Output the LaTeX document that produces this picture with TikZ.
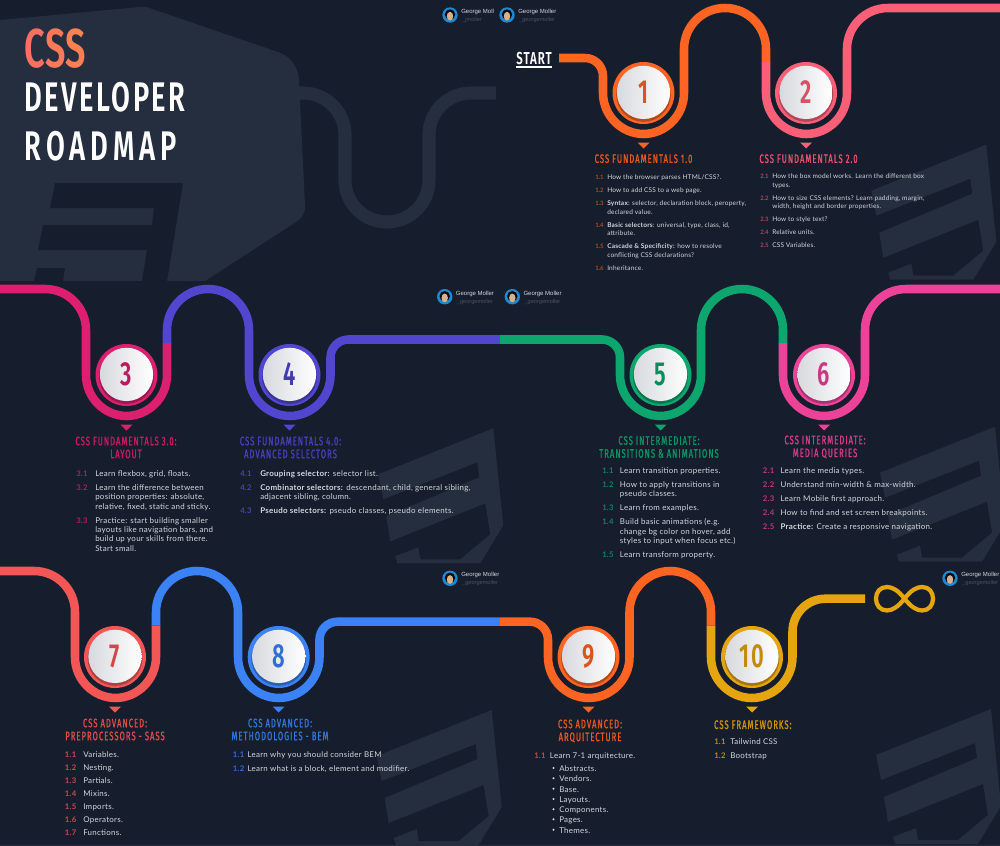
\documentclass[tikz,border=0pt]{standalone}
\usepackage{fontspec}
\setmainfont{Lato}
\newfontfamily\dinfont[FakeStretch=0.62,FakeBold=1.1,LetterSpace=8.6]{Fira Sans}
\newfontfamily\titlefont[FakeStretch=0.66,LetterSpace=6]{Fira Sans SemiBold}
\newfontfamily\avatarfont{Liberation Sans}
\definecolor{bgdark}{HTML}{161D2D}
\definecolor{shieldgray}{HTML}{252E3E}
\definecolor{itemgray}{HTML}{D3D7DE}
\definecolor{handlegray}{HTML}{4B5363}
\definecolor{discgray}{HTML}{D8D9DE}
\definecolor{avatarblue}{HTML}{1E88D0}
\definecolor{roadorange}{HTML}{FF6422}
\definecolor{roadpink}{HTML}{FB5F78}
\definecolor{roadcrimson}{HTML}{DC1F6E}
\definecolor{roadviolet}{HTML}{5146D0}
\definecolor{roadgreen}{HTML}{0DA66F}
\definecolor{roadmagenta}{HTML}{EC4399}
\definecolor{roadcoral}{HTML}{F45656}
\definecolor{roadblue}{HTML}{3B82F6}
\definecolor{roadamber}{HTML}{E5A50F}
\tikzset{
  road/.style={line width=6.4pt, rounded corners=30.75pt},
  smallbend/.style={rounded corners=13.5pt},
  bigbend/.style={rounded corners=30.75pt},
  ringdisc/.style={circle, minimum size=46.5pt, inner sep=0pt},
  numdisc/.style={circle, minimum size=40pt, inner sep=0pt, left color=discgray, right color=white,
    font=\titlefont\fontsize{25}{25}\selectfont},
  headline/.style={align=center, inner sep=0pt, font=\dinfont\fontsize{9.2}{9.7}\selectfont},
  numlabel/.style={anchor=mid west, inner sep=0pt},
  itemtext/.style={anchor=mid west, inner sep=0pt, text=itemgray},
  bigtitle/.style={anchor=west, inner sep=0pt, text=white},
  avatarname/.style={anchor=mid west, inner sep=0pt, text=itemgray, font=\avatarfont\fontsize{4.5}{5}\selectfont},
  avatarhandle/.style={anchor=mid west, inner sep=0pt, text=handlegray, font=\avatarfont\fontsize{4.2}{5}\selectfont}
}
% css logo that sits behind the text
\newcommand{\csslogo}[2]{
  \fill[shieldgray, shift={(#1,#2)}] (38,55) -- (153,9) -- (163,106) -- (140,144) -- (57,144) -- (55,137)
    -- (78,128) -- (80,140) -- (120,140) -- (150,115) -- (145,84) -- (50,122) -- (46,97)
    -- (139,58) -- (137,43) -- (43,80) -- cycle;
}
% small portrait
\newcommand{\authormark}[2]{
  \fill[#1, shift={(#2)}] (0,0) circle[radius=7.7];
  \fill[shift={(#2)}, fill=black!70!bgdark] (0,-.5) circle[radius=5.2];
  \fill[shift={(#2)}, fill=brown!60!white] (0,1.2) ellipse[x radius=3.2, y radius=4.4];
}
\begin{document}
\begin{tikzpicture}[x=.75pt,y=-.75pt]
\useasboundingbox (0,0) rectangle (1000,846);
\clip (0,0) rectangle (1000,846);
\fill[bgdark] (0,0) rectangle (1000,846);
\fill[shieldgray] (0,844.6) rectangle (1000,846);

% big shield and its faint road
\fill[shieldgray] (0,20) -- (140,7) .. controls (146,6.5) and (150,8) .. (155,10) -- (278,52)
  .. controls (290,56) and (298,66) .. (299,80) -- (305,205) .. controls (306,212) and (302,218) .. (296,222)
  -- (205,281) -- (0,281) -- cycle;
\fill[bgdark] (183,183) -- (55,183) -- (50,208) -- (154,208) -- (152,225) -- (43,225) -- (38,250)
  -- (147,250) -- (142,281) -- (63,281) -- (65,268) -- (37,268) -- (34,281) -- (167,281) -- cycle;
\draw[shieldgray, line width=9.8pt, rounded corners=31.5pt] (298,93) -- (345,93) -- (345,222) -- (429,222) -- (429,93) -- (496,93);

\csslogo{833.3}{135.7}
\csslogo{842}{417.7}
\csslogo{340.3}{419.3}
\csslogo{838}{700}
\csslogo{338.7}{701}

% authors
\foreach \k/\x/\y/\nm/\hdl in {
  a/450/15/{George Moll}/{\_jmoller},
  b/507/15/{George Moller}/{\_georgemoller},
  c/444.7/296.7/{George Moller}/{\_georgemoller},
  d/512.3/296.7/{George Moller}/{\_georgemoller},
  e/450/578.3/{George Moller}/{\_georgemoller},
  f/950/578.3/{George Moller}/{\_georgemoller}}{
  \authormark{avatarblue}{\x,\y}
  \node[avatarname] (name\k) at (\x+11,\y-5) {\nm};
  \node[avatarhandle] (handle\k) at (\x+12,\y+3.3) {\hdl};
}

% first row
\draw[road, roadorange, smallbend] (559,58) -- (603,58) [bigbend] -- (603,134) -- (684,134) -- (684,8) -- (766,8) -- (766,62);
\draw[road, roadpink] (766,62) -- (766,134) -- (847,134) -- (847,8) -- (1000,8);

% second row
\draw[road, roadcrimson] (0,289) -- (86,289) -- (86,416) -- (167,416) -- (167,343);
\draw[road, roadviolet] (167,343) -- (167,289) -- (249,289) -- (249,416) -- (330.5,416) [smallbend] -- (330.5,339.5) -- (500,339.5);
\draw[road, roadgreen, smallbend] (500,339.5) -- (620,339.5) [bigbend] -- (620,416) -- (701,416) -- (701,289) -- (783,289) -- (783,343);
\draw[road, roadmagenta] (783,343) -- (783,416) -- (865,416) -- (865,289) -- (1000,289);

% third row
\draw[road, roadcoral] (0,571) -- (75,571) -- (75,698) -- (156,698) -- (156,625.7);
\draw[road, roadblue] (156,625.7) -- (156,571) -- (238,571) -- (238,698) -- (319.5,698) [smallbend] -- (319.5,621.7) -- (500,621.7);
\draw[road, roadorange, smallbend] (500,621.7) -- (548,621.7) [bigbend] -- (548,698) -- (629.5,698) -- (629.5,571) -- (711,571) -- (711,625.7);
\draw[road, roadamber] (711,625.7) -- (711,698) -- (792.5,698) [rounded corners=24.75pt] -- (792.5,598.7) -- (865,598.7);

% infinity
\draw[roadamber, line width=3.2pt] (904.5,598.7) .. controls (911,590) and (917,587) .. (922,587)
  .. controls (929,587) and (933,592) .. (933,598.7) .. controls (933,605) and (929,610.5) .. (922,610.5)
  .. controls (917,610.5) and (911,607) .. (904.5,598.7) .. controls (898,590) and (892,587) .. (887,587)
  .. controls (880,587) and (876,592) .. (876,598.7) .. controls (876,605) and (880,610.5) .. (887,610.5)
  .. controls (892,610.5) and (898,607) .. (904.5,598.7) -- cycle;

% numbered discs
\foreach \n/\x/\y/\c in {
  1/643.5/93/roadorange, 2/806/93/roadpink,
  3/126.5/375/roadcrimson, 4/289.5/375/roadviolet, 5/660.5/375/roadgreen, 6/824/375/roadmagenta,
  7/115/657/roadcoral, 8/278.7/657/roadblue, 9/588.5/657/roadorange, 10/752/657/roadamber}{
  \node[ringdisc, fill=\c] (ring\n) at (\x,\y) {};
  \fill[\c!72!black] (\x,\y+1.4) circle[radius=27.4];
  \node[numdisc, text=\c!85!black] (step\n) at (\x,\y-.6) {\n};
  \fill[\c] (\x-6,\y+49.5) -- (\x+6,\y+49.5) -- (\x,\y+55.5) -- cycle;
}

% page title
\node[bigtitle, font=\titlefont\addfontfeature{LetterSpace=13}\fontsize{41}{41}\selectfont] (titlecss) at (24.5,49)
  {\textcolor[HTML]{FB6F62}{C}\textcolor[HTML]{FD7958}{S}\textcolor[HTML]{FE8052}{S}};
\node[bigtitle, font=\titlefont\fontsize{31}{31}\selectfont] (titledev) at (24.5,97) {DEVELOPER};
\node[bigtitle, font=\titlefont\addfontfeature{LetterSpace=12}\fontsize{31}{31}\selectfont] (titleroad) at (24.5,146) {ROADMAP};
\node[bigtitle, font=\titlefont\fontsize{13}{13}\selectfont] (start) at (516,59) {START};
\draw[white, line width=.9pt] (start.west |- 0,67) -- (start.east |- 0,67);

% headlines
\node[headline, text=roadorange!90!black] (head1) at (643.5,158.7) {CSS FUNDAMENTALS 1.0};
\node[headline, text=roadpink!90!black] (head2) at (808.5,158.7) {CSS FUNDAMENTALS 2.0};
\node[headline, text=roadcrimson!90!black] (head3) at (126,447.5) {CSS FUNDAMENTALS 3.0:\\LAYOUT};
\node[headline, text=roadviolet!90!black] (head4) at (290.5,447.5) {CSS FUNDAMENTALS 4.0:\\ADVANCED SELECTORS};
\node[headline, text=roadgreen!90!black] (head5) at (659,447) {CSS INTERMEDIATE:\\TRANSITIONS \& ANIMATIONS};
\node[headline, text=roadmagenta!90!black] (head6) at (825,447) {CSS INTERMEDIATE:\\MEDIA QUERIES};
\node[headline, text=roadcoral!90!black] (head7) at (115,729.5) {CSS ADVANCED:\\PREPROCESSORS - SASS};
\node[headline, text=roadblue!90!black] (head8) at (280,729.5) {CSS ADVANCED:\\METHODOLOGIES - BEM};
\node[headline, text=roadorange!90!black] (head9) at (590,731) {CSS ADVANCED:\\ARQUITECTURE};
\node[headline, text=roadamber!90!black] (head10) at (752.8,724.7) {CSS FRAMEWORKS:};

% first row lists
\begin{scope}[every node/.append style={font=\fontsize{4.9}{6}\selectfont\addfontfeature{LetterSpace=3}},
  numlabel/.append style={font=\bfseries\fontsize{4.5}{6}\selectfont}]
\foreach \k/\y/\lab/\txt in {
  1/176/1.1/{How the browser parses HTML/CSS?.},
  2/189/1.2/{How to add CSS to a web page.},
  3/202/1.3/{\textbf{Syntax}: selector, declaration block, peroperty,},
  4/210.7/{}/{declared value.},
  5/223.7/1.4/{\textbf{Basic selectors}: universal, type, class, id,},
  6/232/{}/{attribute.},
  7/245.3/1.5/{\textbf{Cascade \& Specificity:} how to resolve},
  8/253.7/{}/{conflicting CSS declarations?},
  9/266.7/1.6/{Inheritance.}}{
  \node[numlabel, text=roadorange!65!bgdark] (numa\k) at (595,\y) {\lab};
  \node[itemtext] (itema\k) at (607,\y) {\txt};
}
\foreach \k/\y/\lab/\txt in {
  1/175/2.1/{How the box model works. Learn the different box},
  2/183.7/{}/{types.},
  3/196.7/2.2/{How to size CSS elements? Learn padding, margin,},
  4/205.3/{}/{width, height and border properties.},
  5/218.3/2.3/{How to style text?},
  6/231.3/2.4/{Relative units.},
  7/244.3/2.5/{CSS Variables.}}{
  \node[numlabel, text=roadpink!65!bgdark] (numb\k) at (760,\y) {\lab};
  \node[itemtext] (itemb\k) at (772,\y) {\txt};
}
\end{scope}

% other lists
\begin{scope}[every node/.append style={font=\fontsize{5.95}{7}\selectfont\addfontfeature{LetterSpace=3.5}},
  numlabel/.append style={font=\bfseries\fontsize{5.8}{7}\selectfont\addfontfeature{LetterSpace=3}}]
\foreach \k/\y/\lab/\txt in {
  1/472.7/3.1/{Learn flexbox, grid, floats.},
  2/486.7/3.2/{Learn the difference between},
  3/496.3/{}/{position properties: absolute,},
  4/505.7/{}/{relative, fixed, static and sticky.},
  5/519.7/3.3/{Practice: start building smaller},
  6/529/{}/{layouts like navigation bars, and},
  7/538.3/{}/{build up your skills from there.},
  8/547.7/{}/{Start small.}}{
  \node[numlabel, text=roadcrimson!75!bgdark] (numc\k) at (76,\y) {\lab};
  \node[itemtext] (itemc\k) at (95,\y) {\txt};
}
\foreach \k/\y/\lab/\txt in {
  1/472.7/4.1/{\textbf{Grouping selector:} selector list.},
  2/486.7/4.2/{\textbf{Combinator selectors:} descendant, child, general sibling,},
  3/496.3/{}/{adjacent sibling, column.},
  4/510/4.3/{\textbf{Pseudo selectors:} pseudo classes, pseudo elements.}}{
  \node[numlabel, text=roadviolet!85!bgdark] (numd\k) at (240,\y) {\lab};
  \node[itemtext] (itemd\k) at (260,\y) {\txt};
}
\foreach \k/\y/\lab/\txt in {
  1/470/1.1/{Learn transition properties.},
  2/484/1.2/{How to apply transitions in},
  3/493.3/{}/{pseudo classes.},
  4/507.3/1.3/{Learn from examples.},
  5/521.3/1.4/{Build basic animations (e.g.},
  6/530.7/{}/{change bg color on hover, add},
  7/540/{}/{styles to input when focus etc.)},
  8/554/1.5/{Learn transform property.}}{
  \node[numlabel, text=roadgreen!75!bgdark] (nume\k) at (602,\y) {\lab};
  \node[itemtext] (iteme\k) at (619.7,\y) {\txt};
}
\foreach \k/\y/\lab/\txt in {
  1/470/2.1/{Learn the media types.},
  2/484/2.2/{Understand min-width \& max-width.},
  3/498/2.3/{Learn Mobile first approach.},
  4/512/2.4/{How to find and set screen breakpoints.},
  5/526/2.5/{\textbf{Practice:} Create a responsive navigation.}}{
  \node[numlabel, text=roadmagenta!75!bgdark] (numf\k) at (762.7,\y) {\lab};
  \node[itemtext] (itemf\k) at (780.3,\y) {\txt};
}
\foreach \k/\y/\lab/\txt in {
  1/753.7/1.1/{Variables.}, 2/767/1.2/{Nesting.}, 3/780/1.3/{Partials.}, 4/793/1.4/{Mixins.},
  5/806.3/1.5/{Imports.}, 6/819.3/1.6/{Operators.}, 7/832.3/1.7/{Functions.}}{
  \node[numlabel, text=roadcoral!80!bgdark] (numg\k) at (64.7,\y) {\lab};
  \node[itemtext] (itemg\k) at (83,\y) {\txt};
}
\foreach \k/\y/\lab/\txt in {
  1/754/1.1/{Learn why you should consider BEM},
  2/768/1.2/{Learn what is a block, element and modifier.}}{
  \node[numlabel, text=roadblue!80!bgdark] (numh\k) at (232.7,\y) {\lab};
  \node[itemtext] (itemh\k) at (247.3,\y) {\txt};
}
\node[numlabel, text=roadorange!75!bgdark] (numi1) at (534,755) {1.1};
\node[itemtext] (itemi1) at (549.7,755) {Learn 7-1 arquitecture.};
\foreach \k/\y/\txt in {
  1/768/Abstracts., 2/778.3/Vendors., 3/788.7/Base., 4/799/Layouts.,
  5/809.3/Components., 6/819.3/Pages., 7/829.7/Themes.}{
  \fill[itemgray] (553.5,\y) circle[radius=1.1];
  \node[itemtext] (subi\k) at (559,\y) {\txt};
}
\foreach \k/\y/\lab/\txt in {
  1/741/1.1/{Tailwind CSS}, 2/755/1.2/{Bootstrap}}{
  \node[numlabel, text=roadamber!80!bgdark] (numj\k) at (714,\y) {\lab};
  \node[itemtext] (itemj\k) at (730,\y) {\txt};
}
\end{scope}
\end{tikzpicture}
\end{document}
